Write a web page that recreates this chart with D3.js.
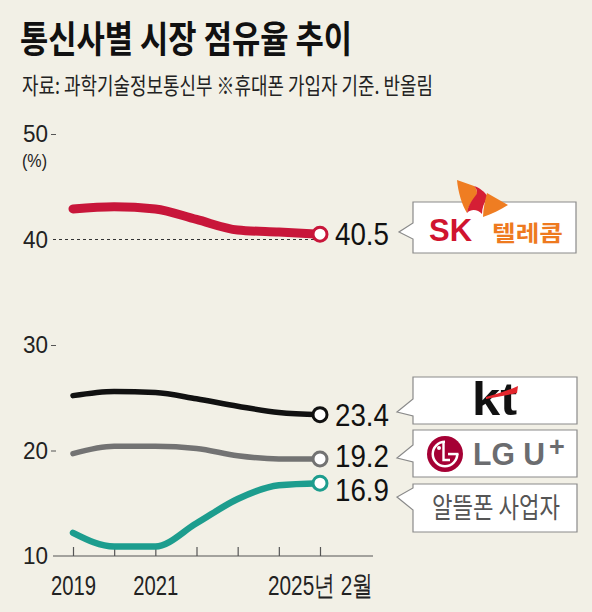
<!DOCTYPE html>
<html>
<head>
<meta charset="utf-8">
<script src="https://cdn.jsdelivr.net/npm/d3@7"></script>
<style>
  body { margin: 0; background: #f2f0e6; }
  svg { display: block; }
</style>
</head>
<body>
<div id="chart"></div>
<script>
// data (%)
const periods = ["2019", "2020", "2021", "2022", "2023", "2024", "2025.2"];
const tickLabels = ["2019", "", "2021", "", "", "", "2025년 2월"];
const yTicks = [10, 20, 30, 40, 50];
const skt = [42.9, 43.1, 42.9, 41.9, 40.9, 40.7, 40.5];
const kt = [25.2, 25.6, 25.5, 24.9, 24.2, 23.6, 23.4];
const lgu = [19.7, 20.4, 20.4, 20.2, 19.5, 19.2, 19.2];
const mvno = [12.2, 10.9, 10.9, 13.1, 15.4, 16.7, 16.9];

const width = 592;
const height = 612;
const numFont = "'Liberation Sans', Arial, sans-serif";
const krFont = "'Noto Sans CJK KR', 'Noto Sans', sans-serif";

const series = [
  { key: "skt", values: skt, color: "#c8163a", stroke: 9, dy: 11 },
  { key: "kt", values: kt, color: "#111111", stroke: 5.5, dy: 11 },
  { key: "lgu", values: lgu, color: "#737373", stroke: 5.5, dy: 8 },
  { key: "mvno", values: mvno, color: "#1d9d8e", stroke: 6.5, dy: 18 }
];

const svg = d3.select("#chart")
  .append("svg")
  .attr("width", width)
  .attr("height", height);

svg.append("rect")
  .attr("width", width)
  .attr("height", height)
  .attr("fill", "#f2f0e6");

// title + source
svg.append("text")
  .attr("x", 20)
  .attr("y", 53)
  .attr("textLength", 332)
  .attr("lengthAdjust", "spacingAndGlyphs")
  .style("font-family", krFont)
  .style("font-weight", 700)
  .style("font-size", "37px")
  .style("fill", "#111")
  .text("통신사별 시장 점유율 추이");

svg.append("text")
  .attr("x", 22)
  .attr("y", 94)
  .attr("textLength", 411)
  .attr("lengthAdjust", "spacingAndGlyphs")
  .style("font-family", krFont)
  .style("font-size", "23px")
  .style("fill", "#222")
  .text("자료: 과학기술정보통신부 ※휴대폰 가입자 기준. 반올림");

const x = d3.scalePoint()
  .domain(periods)
  .range([73, 320]);

const y = d3.scaleLinear()
  .domain([10, 50])
  .range([556, 134]);

// y axis
const yAxis = svg.append("g")
  .attr("transform", "translate(56,0)")
  .call(d3.axisLeft(y).tickValues(yTicks).tickSize(5).tickPadding(3).tickFormat(d3.format("d")));
yAxis.select(".domain").remove();
yAxis.selectAll(".tick line").attr("stroke", "#555").attr("stroke-width", 1);
yAxis.selectAll(".tick text")
  .attr("textLength", 25)
  .attr("lengthAdjust", "spacingAndGlyphs")
  .style("font-family", numFont)
  .style("font-size", "24px")
  .style("fill", "#222");
yAxis.selectAll(".tick").filter(d => d === 40 || d === 10).select("line").remove();

svg.append("text")
  .attr("x", 47)
  .attr("y", 167)
  .attr("text-anchor", "end")
  .attr("textLength", 25)
  .attr("lengthAdjust", "spacingAndGlyphs")
  .style("font-family", numFont)
  .style("font-size", "19px")
  .style("fill", "#222")
  .text("(%)");

// dashed reference at 40
svg.append("line")
  .attr("x1", 53)
  .attr("x2", x(periods[periods.length - 1]))
  .attr("y1", y(40))
  .attr("y2", y(40))
  .attr("stroke", "#333")
  .attr("stroke-width", 1)
  .attr("stroke-dasharray", "3,3");

// x axis
const xAxis = svg.append("g")
  .attr("transform", `translate(0,${y(10)})`)
  .call(d3.axisBottom(x).tickSizeInner(-9).tickSizeOuter(0).tickPadding(19)
    .tickFormat((d, i) => tickLabels[i]));
xAxis.select(".domain").remove();
xAxis.selectAll(".tick line").attr("stroke", "#555").attr("stroke-width", 1.2);
xAxis.selectAll(".tick text")
  .style("font-family", numFont)
  .style("font-size", "28px")
  .style("fill", "#222")
  .each(function (d, i) {
    const len = tickLabels[i].length > 4 ? 105 : 45;
    if (tickLabels[i]) {
      d3.select(this).attr("textLength", len).attr("lengthAdjust", "spacingAndGlyphs");
    }
  });

xAxis.append("line")
  .attr("x1", 53)
  .attr("x2", 373)
  .attr("stroke", "#555")
  .attr("stroke-width", 1.2);

// lines
const line = d3.line()
  .x((d, i) => x(periods[i]))
  .y(d => y(d))
  .curve(d3.curveMonotoneX);

svg.selectAll(".series")
  .data(series)
  .enter()
  .append("path")
  .attr("class", "series")
  .attr("d", d => line(d.values))
  .attr("fill", "none")
  .attr("stroke", d => d.color)
  .attr("stroke-width", d => d.stroke)
  .attr("stroke-linecap", "round")
  .attr("stroke-linejoin", "round");

const last = periods[periods.length - 1];

svg.selectAll(".endpoint")
  .data(series)
  .enter()
  .append("circle")
  .attr("class", "endpoint")
  .attr("cx", x(last))
  .attr("cy", d => y(d.values[d.values.length - 1]))
  .attr("r", 7)
  .attr("fill", "#fff")
  .attr("stroke", d => d.color)
  .attr("stroke-width", 3);

svg.selectAll(".value")
  .data(series)
  .enter()
  .append("text")
  .attr("class", "value")
  .attr("x", x(last) + 15)
  .attr("y", d => y(d.values[d.values.length - 1]) + d.dy)
  .attr("textLength", 54)
  .attr("lengthAdjust", "spacingAndGlyphs")
  .style("font-family", numFont)
  .style("font-size", "31px")
  .style("fill", "#111")
  .text(d => d3.format(".1f")(d.values[d.values.length - 1]));

// speech-bubble boxes
function bubble(x0, x1, y0, y1, nt, nb, tx, ty) {
  return `M${x0},${y0}H${x1}V${y1}H${x0}V${nb}L${tx},${ty}L${x0},${nt}Z`;
}
const boxes = [
  bubble(413, 576, 202, 253, 223, 239, 399, 232),
  bubble(413, 577, 377, 424, 399, 416, 397, 412),
  bubble(413, 577, 430, 477, 445, 462, 397, 458),
  bubble(413, 577, 484, 532, 488, 510, 397, 497)
];
svg.selectAll(".box")
  .data(boxes)
  .enter()
  .append("path")
  .attr("class", "box")
  .attr("d", d => d)
  .attr("fill", "#fff")
  .attr("stroke", "#8a8a8a")
  .attr("stroke-width", 1.2);

// SK telecom logo
const sk = svg.append("g");
sk.append("path")
  .attr("d", "M457,180 L474,186 C478,190 478,195 474,199 C470,203 468,208 467,213 C462,205 458,192 457,180 Z")
  .attr("fill", "#ef7d22");
sk.append("path")
  .attr("d", "M474,186 C480,188 485,192 488,197 C484,202 482,208 482,214 C478,210 472,208 467,213 C468,206 472,200 476,195 C478,192 477,189 474,186 Z")
  .attr("fill", "#d51f35");
sk.append("path")
  .attr("d", "M487,193 L508,205 C500,210 492,214 483,217 C483,209 485,201 487,193 Z")
  .attr("fill", "#ef7d22");
sk.append("text")
  .attr("x", 429)
  .attr("y", 241)
  .attr("textLength", 43)
  .attr("lengthAdjust", "spacingAndGlyphs")
  .style("font-family", "'Liberation Sans', Arial, sans-serif")
  .style("font-weight", 700)
  .style("font-size", "32px")
  .style("fill", "#d0142f")
  .text("SK");
sk.append("text")
  .attr("x", 492)
  .attr("y", 241)
  .attr("textLength", 71)
  .attr("lengthAdjust", "spacingAndGlyphs")
  .style("font-family", krFont)
  .style("font-weight", 700)
  .style("font-size", "22px")
  .style("fill", "#ee7a1f")
  .text("텔레콤");

// kt logo
svg.append("text")
  .attr("x", 472)
  .attr("y", 415)
  .attr("textLength", 45)
  .attr("lengthAdjust", "spacingAndGlyphs")
  .style("font-family", "'Liberation Sans', Arial, sans-serif")
  .style("font-weight", 700)
  .style("font-size", "46px")
  .style("fill", "#111")
  .text("kt");
svg.append("path")
  .attr("d", "M486,397 C496,394 507,391 518,386 L517,393 C507,395 497,397 486,399 Z")
  .attr("fill", "#e3262d");

// LG U+ logo
const lg = svg.append("g");
lg.append("circle")
  .attr("cx", 445)
  .attr("cy", 454)
  .attr("r", 18)
  .attr("fill", "#a50034");
lg.append("path")
  .attr("transform", "translate(445,454)")
  .attr("d", d3.arc().innerRadius(11).outerRadius(13.5).startAngle(Math.PI / 2).endAngle(Math.PI * 2)())
  .attr("fill", "#fff");
lg.append("rect")
  .attr("x", 448).attr("y", 452.8).attr("width", 10.5).attr("height", 2.5)
  .attr("fill", "#fff");
lg.append("circle")
  .attr("cx", 439).attr("cy", 448).attr("r", 2)
  .attr("fill", "#fff");
lg.append("path")
  .attr("d", "M443.5,443 V460 H450")
  .attr("fill", "none")
  .attr("stroke", "#fff")
  .attr("stroke-width", 2.4);
lg.append("text")
  .attr("x", 473)
  .attr("y", 465)
  .attr("textLength", 72)
  .attr("lengthAdjust", "spacingAndGlyphs")
  .style("font-family", "'Liberation Sans', Arial, sans-serif")
  .style("font-weight", 700)
  .style("font-size", "31px")
  .style("fill", "#6b6c6f")
  .text("LG U");
lg.append("text")
  .attr("x", 549)
  .attr("y", 456)
  .style("font-family", "'Liberation Sans', Arial, sans-serif")
  .style("font-weight", 700)
  .style("font-size", "27px")
  .style("fill", "#6b6c6f")
  .text("+");

// MVNO label
svg.append("text")
  .attr("x", 432)
  .attr("y", 518)
  .attr("textLength", 128)
  .attr("lengthAdjust", "spacingAndGlyphs")
  .style("font-family", krFont)
  .style("font-size", "28px")
  .style("fill", "#555")
  .text("알뜰폰 사업자");
</script>
</body>
</html>
